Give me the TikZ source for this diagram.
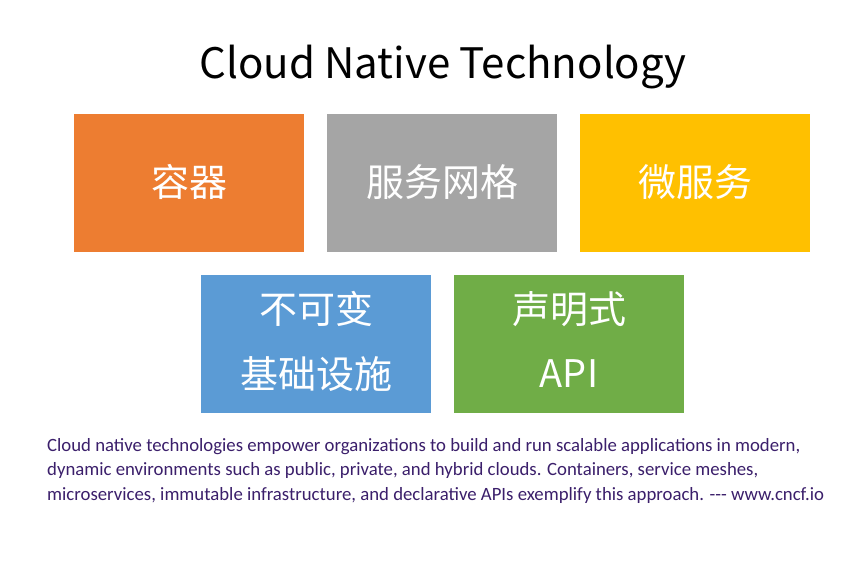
\documentclass[tikz,border=0pt]{standalone}
\usepackage{fontspec}
\setmainfont{Carlito}
\newfontfamily\cjk{Noto Sans CJK SC}
\definecolor{corange}{HTML}{ED7D31}
\definecolor{cgray}{HTML}{A5A5A5}
\definecolor{cyellow}{HTML}{FFC000}
\definecolor{cblue}{HTML}{5B9BD5}
\definecolor{cgreen}{HTML}{70AD47}
\definecolor{cpurple}{HTML}{3B1F6B}
\begin{document}
\begin{tikzpicture}[x=1pt,y=-1pt,
  tile/.style={rectangle, minimum width=230pt, minimum height=138pt, anchor=north west, inner sep=0pt},
  tiletext/.style={text=white, font=\cjk\fontsize{38}{44}\selectfont},
]
\useasboundingbox (0,0) rectangle (864,577);
\fill[white] (0,0) rectangle (864,577);
\node[anchor=center, font=\cjk\fontsize{42}{48}\selectfont] (title) at (443,67) {Cloud Native Technology};
\node[tile, fill=corange] (t1) at (74,114) {};
\node[tile, fill=cgray] (t2) at (327,114) {};
\node[tile, fill=cyellow] (t3) at (580,114) {};
\node[tile, fill=cblue] (t4) at (201,275) {};
\node[tile, fill=cgreen] (t5) at (454,275) {};
\node[tiletext] (l1) at (189,182) {容器};
\node[tiletext] (l2) at (442,182) {服务网格};
\node[tiletext] (l3) at (695,182) {微服务};
\node[tiletext] (l4a) at (316,309) {不可变};
\node[tiletext] (l4b) at (316,374) {基础设施};
\node[tiletext] (l5a) at (569,309) {声明式};
\node[tiletext] (l5b) at (569,374) {API};
\node[anchor=north west, align=left, text=cpurple, font=\fontsize{18.75}{24.5}\selectfont, inner sep=0pt] (desc) at (47,438)
 {Cloud native technologies empower organizations to build and run scalable applications in modern,\\
  dynamic environments such as public, private, and hybrid clouds. Containers, service meshes,\\
  microservices, immutable infrastructure, and declarative APIs exemplify this approach. -{}-{}- www.cncf.io};
\end{tikzpicture}
\end{document}
